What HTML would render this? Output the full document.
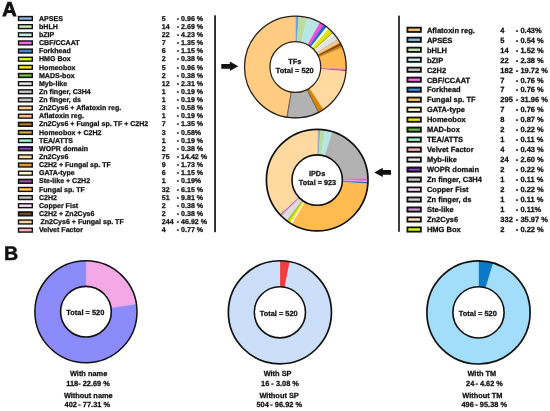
<!DOCTYPE html>
<html><head><meta charset="utf-8"><title>Figure</title>
<style>html,body{margin:0;padding:0;background:#fff}svg{display:block}text{stroke:#111;stroke-width:.26px;text-rendering:geometricPrecision}</style></head>
<body>
<svg width="550" height="411" viewBox="0 0 550 411" font-family="Liberation Sans, sans-serif" font-weight="bold" fill="#111">
<rect width="550" height="411" fill="#fff"/>
<text x="2.2" y="16.1" font-size="20" style="stroke-width:.8px">A</text>
<text x="4.0" y="259.7" font-size="19.6" style="stroke-width:.5px">B</text>
<rect x="18.5" y="16.55" width="13.8" height="3.9" fill="#6FA3DC" stroke="#111" stroke-width="1.4"/><rect x="19.6" y="17.95" width="11.6" height="1.1" fill="#fff" opacity=".3"/>
<text x="39" y="20.70" font-size="7.05">APSES</text>
<text x="161.8" y="20.70" font-size="7.05">5</text>
<text x="176.8" y="20.70" font-size="7.05">- 0.96 %</text>
<rect x="18.5" y="24.69" width="13.8" height="3.9" fill="#BCDCA2" stroke="#111" stroke-width="1.4"/><rect x="19.6" y="26.09" width="11.6" height="1.1" fill="#fff" opacity=".3"/>
<text x="39" y="28.84" font-size="7.05">bHLH</text>
<text x="161.8" y="28.84" font-size="7.05">14</text>
<text x="176.8" y="28.84" font-size="7.05">- 2.69 %</text>
<rect x="18.5" y="32.83" width="13.8" height="3.9" fill="#B8E6E6" stroke="#111" stroke-width="1.4"/><rect x="19.6" y="34.23" width="11.6" height="1.1" fill="#fff" opacity=".3"/>
<text x="39" y="36.97" font-size="7.05">bZIP</text>
<text x="161.8" y="36.97" font-size="7.05">22</text>
<text x="176.8" y="36.97" font-size="7.05">- 4.23 %</text>
<rect x="18.5" y="40.97" width="13.8" height="3.9" fill="#F24CE0" stroke="#111" stroke-width="1.4"/><rect x="19.6" y="42.37" width="11.6" height="1.1" fill="#fff" opacity=".3"/>
<text x="39" y="45.11" font-size="7.05">CBF/CCAAT</text>
<text x="161.8" y="45.11" font-size="7.05">7</text>
<text x="176.8" y="45.11" font-size="7.05">- 1.35 %</text>
<rect x="18.5" y="49.11" width="13.8" height="3.9" fill="#1C6FC4" stroke="#111" stroke-width="1.4"/><rect x="19.6" y="50.51" width="11.6" height="1.1" fill="#fff" opacity=".3"/>
<text x="39" y="53.24" font-size="7.05">Forkhead</text>
<text x="161.8" y="53.24" font-size="7.05">6</text>
<text x="176.8" y="53.24" font-size="7.05">- 1.15 %</text>
<rect x="18.5" y="57.25" width="13.8" height="3.9" fill="#C8F000" stroke="#111" stroke-width="1.4"/><rect x="19.6" y="58.65" width="11.6" height="1.1" fill="#fff" opacity=".3"/>
<text x="39" y="61.38" font-size="7.05">HMG Box</text>
<text x="161.8" y="61.38" font-size="7.05">2</text>
<text x="176.8" y="61.38" font-size="7.05">- 0.38 %</text>
<rect x="18.5" y="65.39" width="13.8" height="3.9" fill="#F2D800" stroke="#111" stroke-width="1.4"/><rect x="19.6" y="66.79" width="11.6" height="1.1" fill="#fff" opacity=".3"/>
<text x="39" y="69.51" font-size="7.05">Homeobox</text>
<text x="161.8" y="69.51" font-size="7.05">5</text>
<text x="176.8" y="69.51" font-size="7.05">- 0.96 %</text>
<rect x="18.5" y="73.53" width="13.8" height="3.9" fill="#4F9A2E" stroke="#111" stroke-width="1.4"/><rect x="19.6" y="74.93" width="11.6" height="1.1" fill="#fff" opacity=".3"/>
<text x="39" y="77.64" font-size="7.05">MADS-box</text>
<text x="161.8" y="77.64" font-size="7.05">2</text>
<text x="176.8" y="77.64" font-size="7.05">- 0.38 %</text>
<rect x="18.5" y="81.67" width="13.8" height="3.9" fill="#E2E2E2" stroke="#111" stroke-width="1.4"/><rect x="19.6" y="83.07" width="11.6" height="1.1" fill="#fff" opacity=".3"/>
<text x="39" y="85.78" font-size="7.05">Myb-like</text>
<text x="161.8" y="85.78" font-size="7.05">12</text>
<text x="176.8" y="85.78" font-size="7.05">- 2.31 %</text>
<rect x="18.5" y="89.81" width="13.8" height="3.9" fill="#B4B4B4" stroke="#111" stroke-width="1.4"/><rect x="19.6" y="91.21" width="11.6" height="1.1" fill="#fff" opacity=".3"/>
<text x="39" y="93.92" font-size="7.05">Zn finger, C3H4</text>
<text x="161.8" y="93.92" font-size="7.05">1</text>
<text x="176.8" y="93.92" font-size="7.05">- 0.19 %</text>
<rect x="18.5" y="97.95" width="13.8" height="3.9" fill="#BDBDBD" stroke="#111" stroke-width="1.4"/><rect x="19.6" y="99.35" width="11.6" height="1.1" fill="#fff" opacity=".3"/>
<text x="39" y="102.05" font-size="7.05">Zn finger, ds</text>
<text x="161.8" y="102.05" font-size="7.05">1</text>
<text x="176.8" y="102.05" font-size="7.05">- 0.19 %</text>
<rect x="18.5" y="106.09" width="13.8" height="3.9" fill="#FFC878" stroke="#111" stroke-width="1.4"/><rect x="19.6" y="107.49" width="11.6" height="1.1" fill="#fff" opacity=".3"/>
<text x="39" y="110.19" font-size="7.05">Zn2Cys6 + Aflatoxin reg.</text>
<text x="161.8" y="110.19" font-size="7.05">3</text>
<text x="176.8" y="110.19" font-size="7.05">- 0.58 %</text>
<rect x="18.5" y="114.23" width="13.8" height="3.9" fill="#FFB454" stroke="#111" stroke-width="1.4"/><rect x="19.6" y="115.63" width="11.6" height="1.1" fill="#fff" opacity=".3"/>
<text x="39" y="118.32" font-size="7.05">Aflatoxin reg.</text>
<text x="161.8" y="118.32" font-size="7.05">1</text>
<text x="176.8" y="118.32" font-size="7.05">- 0.19 %</text>
<rect x="18.5" y="122.37" width="13.8" height="3.9" fill="#8E4A00" stroke="#111" stroke-width="1.4"/><rect x="19.6" y="123.77" width="11.6" height="1.1" fill="#fff" opacity=".3"/>
<text x="39" y="126.45" font-size="7.05">Zn2Cys6 + Fungal sp. TF + C2H2</text>
<text x="161.8" y="126.45" font-size="7.05">7</text>
<text x="176.8" y="126.45" font-size="7.05">- 1.35 %</text>
<rect x="18.5" y="130.51" width="13.8" height="3.9" fill="#A89600" stroke="#111" stroke-width="1.4"/><rect x="19.6" y="131.91" width="11.6" height="1.1" fill="#fff" opacity=".3"/>
<text x="39" y="134.59" font-size="7.05">Homeobox + C2H2</text>
<text x="161.8" y="134.59" font-size="7.05">3</text>
<text x="176.8" y="134.59" font-size="7.05">- 0.58%</text>
<rect x="18.5" y="138.65" width="13.8" height="3.9" fill="#8CF2C4" stroke="#111" stroke-width="1.4"/><rect x="19.6" y="140.05" width="11.6" height="1.1" fill="#fff" opacity=".3"/>
<text x="39" y="142.72" font-size="7.05">TEA/ATTS</text>
<text x="161.8" y="142.72" font-size="7.05">1</text>
<text x="176.8" y="142.72" font-size="7.05">- 0.19 %</text>
<rect x="18.5" y="146.79" width="13.8" height="3.9" fill="#5A1690" stroke="#111" stroke-width="1.4"/><rect x="19.6" y="148.19" width="11.6" height="1.1" fill="#fff" opacity=".3"/>
<text x="39" y="150.86" font-size="7.05">WOPR domain</text>
<text x="161.8" y="150.86" font-size="7.05">2</text>
<text x="176.8" y="150.86" font-size="7.05">- 0.38 %</text>
<rect x="18.5" y="154.93" width="13.8" height="3.9" fill="#FFD9A0" stroke="#111" stroke-width="1.4"/><rect x="19.6" y="156.33" width="11.6" height="1.1" fill="#fff" opacity=".3"/>
<text x="39" y="158.99" font-size="7.05">Zn2Cys6</text>
<text x="161.8" y="158.99" font-size="7.05">75</text>
<text x="176.8" y="158.99" font-size="7.05">- 14.42 %</text>
<rect x="18.5" y="163.07" width="13.8" height="3.9" fill="#D88400" stroke="#111" stroke-width="1.4"/><rect x="19.6" y="164.47" width="11.6" height="1.1" fill="#fff" opacity=".3"/>
<text x="39" y="167.13" font-size="7.05">C2H2 + Fungal sp. TF</text>
<text x="161.8" y="167.13" font-size="7.05">9</text>
<text x="176.8" y="167.13" font-size="7.05">- 1.73 %</text>
<rect x="18.5" y="171.21" width="13.8" height="3.9" fill="#FFF8C0" stroke="#111" stroke-width="1.4"/><rect x="19.6" y="172.61" width="11.6" height="1.1" fill="#fff" opacity=".3"/>
<text x="39" y="175.26" font-size="7.05">GATA-type</text>
<text x="161.8" y="175.26" font-size="7.05">6</text>
<text x="176.8" y="175.26" font-size="7.05">- 1.15 %</text>
<rect x="18.5" y="179.35" width="13.8" height="3.9" fill="#6E2A78" stroke="#111" stroke-width="1.4"/><rect x="19.6" y="180.75" width="11.6" height="1.1" fill="#fff" opacity=".3"/>
<text x="39" y="183.40" font-size="7.05">Ste-like + C2H2</text>
<text x="161.8" y="183.40" font-size="7.05">1</text>
<text x="176.8" y="183.40" font-size="7.05">- 0.19%</text>
<rect x="18.5" y="187.49" width="13.8" height="3.9" fill="#FFBA50" stroke="#111" stroke-width="1.4"/><rect x="19.6" y="188.89" width="11.6" height="1.1" fill="#fff" opacity=".3"/>
<text x="39" y="191.53" font-size="7.05">Fungal sp. TF</text>
<text x="161.8" y="191.53" font-size="7.05">32</text>
<text x="176.8" y="191.53" font-size="7.05">- 6.15 %</text>
<rect x="18.5" y="195.63" width="13.8" height="3.9" fill="#B2B2B2" stroke="#111" stroke-width="1.4"/><rect x="19.6" y="197.03" width="11.6" height="1.1" fill="#fff" opacity=".3"/>
<text x="39" y="199.67" font-size="7.05">C2H2</text>
<text x="161.8" y="199.67" font-size="7.05">51</text>
<text x="176.8" y="199.67" font-size="7.05">- 9.81 %</text>
<rect x="18.5" y="203.77" width="13.8" height="3.9" fill="#F8D0F4" stroke="#111" stroke-width="1.4"/><rect x="19.6" y="205.17" width="11.6" height="1.1" fill="#fff" opacity=".3"/>
<text x="39" y="207.80" font-size="7.05">Copper Fist</text>
<text x="161.8" y="207.80" font-size="7.05">2</text>
<text x="176.8" y="207.80" font-size="7.05">- 0.38 %</text>
<rect x="18.5" y="211.91" width="13.8" height="3.9" fill="#4A2400" stroke="#111" stroke-width="1.4"/><rect x="19.6" y="213.31" width="11.6" height="1.1" fill="#fff" opacity=".3"/>
<text x="39" y="215.94" font-size="7.05">C2H2 + Zn2Cys6</text>
<text x="161.8" y="215.94" font-size="7.05">2</text>
<text x="176.8" y="215.94" font-size="7.05">- 0.38 %</text>
<rect x="18.5" y="220.05" width="13.8" height="3.9" fill="#FFCC82" stroke="#111" stroke-width="1.4"/><rect x="19.6" y="221.45" width="11.6" height="1.1" fill="#fff" opacity=".3"/>
<text x="40.5" y="224.07" font-size="7.05">Zn2Cys6 + Fungal sp. TF</text>
<text x="161.8" y="224.07" font-size="7.05">244</text>
<text x="176.8" y="224.07" font-size="7.05">- 46.92 %</text>
<rect x="18.5" y="228.19" width="13.8" height="3.9" fill="#F8A0A0" stroke="#111" stroke-width="1.4"/><rect x="19.6" y="229.59" width="11.6" height="1.1" fill="#fff" opacity=".3"/>
<text x="39" y="232.21" font-size="7.05">Velvet Factor</text>
<text x="161.8" y="232.21" font-size="7.05">4</text>
<text x="176.8" y="232.21" font-size="7.05">- 0.77 %</text>
<rect x="214.1" y="15.3" width="1.9" height="216.9" fill="#2a2a2a"/>
<rect x="407.4" y="27.65" width="13.5" height="4.3" fill="#FFB454" stroke="#111" stroke-width="1.8"/><rect x="408.8" y="29.25" width="10.7" height="1.1" fill="#fff" opacity=".3"/>
<text x="426.9" y="32.80" font-size="7.5">Aflatoxin reg.</text>
<text x="500.3" y="32.80" font-size="7.5">4</text>
<text x="515.8" y="32.80" font-size="7.5">- 0.43%</text>
<rect x="407.4" y="37.63" width="13.5" height="4.3" fill="#6FA3DC" stroke="#111" stroke-width="1.8"/><rect x="408.8" y="39.23" width="10.7" height="1.1" fill="#fff" opacity=".3"/>
<text x="426.9" y="42.74" font-size="7.5">APSES</text>
<text x="500.3" y="42.74" font-size="7.5">5</text>
<text x="515.8" y="42.74" font-size="7.5">- 0.54 %</text>
<rect x="407.4" y="47.62" width="13.5" height="4.3" fill="#BCDCA2" stroke="#111" stroke-width="1.8"/><rect x="408.8" y="49.22" width="10.7" height="1.1" fill="#fff" opacity=".3"/>
<text x="426.9" y="52.69" font-size="7.5">bHLH</text>
<text x="500.3" y="52.69" font-size="7.5">14</text>
<text x="515.8" y="52.69" font-size="7.5">- 1.52 %</text>
<rect x="407.4" y="57.60" width="13.5" height="4.3" fill="#B8E6E6" stroke="#111" stroke-width="1.8"/><rect x="408.8" y="59.20" width="10.7" height="1.1" fill="#fff" opacity=".3"/>
<text x="426.9" y="62.63" font-size="7.5">bZIP</text>
<text x="500.3" y="62.63" font-size="7.5">22</text>
<text x="515.8" y="62.63" font-size="7.5">- 2.38 %</text>
<rect x="407.4" y="67.59" width="13.5" height="4.3" fill="#B2B2B2" stroke="#111" stroke-width="1.8"/><rect x="408.8" y="69.19" width="10.7" height="1.1" fill="#fff" opacity=".3"/>
<text x="426.9" y="72.58" font-size="7.5">C2H2</text>
<text x="500.3" y="72.58" font-size="7.5">182</text>
<text x="515.8" y="72.58" font-size="7.5">- 19.72 %</text>
<rect x="407.4" y="77.57" width="13.5" height="4.3" fill="#F24CE0" stroke="#111" stroke-width="1.8"/><rect x="408.8" y="79.17" width="10.7" height="1.1" fill="#fff" opacity=".3"/>
<text x="426.9" y="82.53" font-size="7.5">CBF/CCAAT</text>
<text x="500.3" y="82.53" font-size="7.5">7</text>
<text x="515.8" y="82.53" font-size="7.5">- 0.76 %</text>
<rect x="407.4" y="87.56" width="13.5" height="4.3" fill="#1C6FC4" stroke="#111" stroke-width="1.8"/><rect x="408.8" y="89.16" width="10.7" height="1.1" fill="#fff" opacity=".3"/>
<text x="426.9" y="92.47" font-size="7.5">Forkhead</text>
<text x="500.3" y="92.47" font-size="7.5">7</text>
<text x="515.8" y="92.47" font-size="7.5">- 0.76 %</text>
<rect x="407.4" y="97.54" width="13.5" height="4.3" fill="#FFBA50" stroke="#111" stroke-width="1.8"/><rect x="408.8" y="99.14" width="10.7" height="1.1" fill="#fff" opacity=".3"/>
<text x="426.9" y="102.42" font-size="7.5">Fungal sp. TF</text>
<text x="500.3" y="102.42" font-size="7.5">295</text>
<text x="515.8" y="102.42" font-size="7.5">- 31.96 %</text>
<rect x="407.4" y="107.53" width="13.5" height="4.3" fill="#FFF8C0" stroke="#111" stroke-width="1.8"/><rect x="408.8" y="109.13" width="10.7" height="1.1" fill="#fff" opacity=".3"/>
<text x="426.9" y="112.36" font-size="7.5">GATA-type</text>
<text x="500.3" y="112.36" font-size="7.5">7</text>
<text x="515.8" y="112.36" font-size="7.5">- 0.76 %</text>
<rect x="407.4" y="117.51" width="13.5" height="4.3" fill="#F2D800" stroke="#111" stroke-width="1.8"/><rect x="408.8" y="119.11" width="10.7" height="1.1" fill="#fff" opacity=".3"/>
<text x="426.9" y="122.30" font-size="7.5">Homeobox</text>
<text x="500.3" y="122.30" font-size="7.5">8</text>
<text x="515.8" y="122.30" font-size="7.5">- 0.87 %</text>
<rect x="407.4" y="127.50" width="13.5" height="4.3" fill="#4F9A2E" stroke="#111" stroke-width="1.8"/><rect x="408.8" y="129.10" width="10.7" height="1.1" fill="#fff" opacity=".3"/>
<text x="426.9" y="132.25" font-size="7.5">MAD-box</text>
<text x="500.3" y="132.25" font-size="7.5">2</text>
<text x="515.8" y="132.25" font-size="7.5">- 0.22 %</text>
<rect x="407.4" y="137.48" width="13.5" height="4.3" fill="#8CF2C4" stroke="#111" stroke-width="1.8"/><rect x="408.8" y="139.08" width="10.7" height="1.1" fill="#fff" opacity=".3"/>
<text x="426.9" y="142.19" font-size="7.5">TEA/ATTS</text>
<text x="500.3" y="142.19" font-size="7.5">1</text>
<text x="515.8" y="142.19" font-size="7.5">- 0.11 %</text>
<rect x="407.4" y="147.47" width="13.5" height="4.3" fill="#F8A0A0" stroke="#111" stroke-width="1.8"/><rect x="408.8" y="149.07" width="10.7" height="1.1" fill="#fff" opacity=".3"/>
<text x="426.9" y="152.14" font-size="7.5">Velvet Factor</text>
<text x="500.3" y="152.14" font-size="7.5">4</text>
<text x="515.8" y="152.14" font-size="7.5">- 0.43 %</text>
<rect x="407.4" y="157.46" width="13.5" height="4.3" fill="#E2E2E2" stroke="#111" stroke-width="1.8"/><rect x="408.8" y="159.06" width="10.7" height="1.1" fill="#fff" opacity=".3"/>
<text x="426.9" y="162.08" font-size="7.5">Myb-like</text>
<text x="500.3" y="162.08" font-size="7.5">24</text>
<text x="515.8" y="162.08" font-size="7.5">- 2.60 %</text>
<rect x="407.4" y="167.44" width="13.5" height="4.3" fill="#5A1690" stroke="#111" stroke-width="1.8"/><rect x="408.8" y="169.04" width="10.7" height="1.1" fill="#fff" opacity=".3"/>
<text x="426.9" y="172.03" font-size="7.5">WOPR domain</text>
<text x="500.3" y="172.03" font-size="7.5">2</text>
<text x="515.8" y="172.03" font-size="7.5">- 0.22 %</text>
<rect x="407.4" y="177.42" width="13.5" height="4.3" fill="#B4B4B4" stroke="#111" stroke-width="1.8"/><rect x="408.8" y="179.02" width="10.7" height="1.1" fill="#fff" opacity=".3"/>
<text x="426.9" y="181.98" font-size="7.5">Zn finger, C3H4</text>
<text x="500.3" y="181.98" font-size="7.5">1</text>
<text x="515.8" y="181.98" font-size="7.5">- 0.11 %</text>
<rect x="407.4" y="187.41" width="13.5" height="4.3" fill="#F8D0F4" stroke="#111" stroke-width="1.8"/><rect x="408.8" y="189.01" width="10.7" height="1.1" fill="#fff" opacity=".3"/>
<text x="426.9" y="191.92" font-size="7.5">Copper Fist</text>
<text x="500.3" y="191.92" font-size="7.5">2</text>
<text x="515.8" y="191.92" font-size="7.5">- 0.22 %</text>
<rect x="407.4" y="197.40" width="13.5" height="4.3" fill="#BDBDBD" stroke="#111" stroke-width="1.8"/><rect x="408.8" y="199.00" width="10.7" height="1.1" fill="#fff" opacity=".3"/>
<text x="426.9" y="201.87" font-size="7.5">Zn finger, ds</text>
<text x="500.3" y="201.87" font-size="7.5">1</text>
<text x="515.8" y="201.87" font-size="7.5">- 0.11 %</text>
<rect x="407.4" y="207.38" width="13.5" height="4.3" fill="#B878C0" stroke="#111" stroke-width="1.8"/><rect x="408.8" y="208.98" width="10.7" height="1.1" fill="#fff" opacity=".3"/>
<text x="426.9" y="211.81" font-size="7.5">Ste-like</text>
<text x="500.3" y="211.81" font-size="7.5">1</text>
<text x="515.8" y="211.81" font-size="7.5">- 0.11%</text>
<rect x="407.4" y="217.36" width="13.5" height="4.3" fill="#FFD9A0" stroke="#111" stroke-width="1.8"/><rect x="408.8" y="218.96" width="10.7" height="1.1" fill="#fff" opacity=".3"/>
<text x="426.9" y="221.75" font-size="7.5">Zn2Cys6</text>
<text x="500.3" y="221.75" font-size="7.5">332</text>
<text x="515.8" y="221.75" font-size="7.5">- 35.97 %</text>
<rect x="407.4" y="227.35" width="13.5" height="4.3" fill="#C8F000" stroke="#111" stroke-width="1.8"/><rect x="408.8" y="228.95" width="10.7" height="1.1" fill="#fff" opacity=".3"/>
<text x="426.9" y="231.70" font-size="7.5">HMG Box</text>
<text x="500.3" y="231.70" font-size="7.5">2</text>
<text x="515.8" y="231.70" font-size="7.5">- 0.22 %</text>
<rect x="398.1" y="15.6" width="1.8" height="216.2" fill="#2a2a2a"/>
<path d="M221.3 63.9H229.8V61.599999999999994L238.20000000000002 66.3L229.8 71.0V68.7H221.3Z" fill="#111"/>
<path d="M391.0 170.0H382.8V167.8L374.2 172.4L382.8 177.0V174.8H391.0Z" fill="#111"/>
<path d="M295.35 16.15A50.85 50.85 0 0 1 298.73 16.26L297.04 41.66A25.4 25.4 0 0 0 295.35 41.60Z" fill="#6FA3DC" stroke="#6FA3DC" stroke-width="0.3"/>
<path d="M298.73 16.26A50.85 50.85 0 0 1 307.30 17.57L301.32 42.31A25.4 25.4 0 0 0 297.04 41.66Z" fill="#BCDCA2" stroke="#BCDCA2" stroke-width="0.3"/>
<path d="M307.30 17.57A50.85 50.85 0 0 1 319.97 22.51L307.65 44.77A25.4 25.4 0 0 0 301.32 42.31Z" fill="#B8E6E6" stroke="#B8E6E6" stroke-width="0.3"/>
<path d="M319.97 22.51A50.85 50.85 0 0 1 323.68 24.77L309.50 45.91A25.4 25.4 0 0 0 307.65 44.77Z" fill="#F24CE0" stroke="#F24CE0" stroke-width="0.3"/>
<path d="M323.68 24.77A50.85 50.85 0 0 1 326.68 26.95L311.00 46.99A25.4 25.4 0 0 0 309.50 45.91Z" fill="#1C6FC4" stroke="#1C6FC4" stroke-width="0.3"/>
<path d="M326.68 26.95A50.85 50.85 0 0 1 328.91 28.80L312.12 47.92A25.4 25.4 0 0 0 311.00 46.99Z" fill="#FFFBD8" stroke="#FFFBD8" stroke-width="0.3"/>
<path d="M328.91 28.80A50.85 50.85 0 0 1 330.58 30.33L312.95 48.68A25.4 25.4 0 0 0 312.12 47.92Z" fill="#C8F000" stroke="#C8F000" stroke-width="0.3"/>
<path d="M330.58 30.33A50.85 50.85 0 0 1 332.61 32.40L313.96 49.71A25.4 25.4 0 0 0 312.95 48.68Z" fill="#F2D800" stroke="#F2D800" stroke-width="0.3"/>
<path d="M332.61 32.40A50.85 50.85 0 0 1 333.15 32.99L314.23 50.01A25.4 25.4 0 0 0 313.96 49.71Z" fill="#4F9A2E" stroke="#4F9A2E" stroke-width="0.3"/>
<path d="M333.15 32.99A50.85 50.85 0 0 1 334.21 34.21L314.76 50.62A25.4 25.4 0 0 0 314.23 50.01Z" fill="#F4F4F0" stroke="#F4F4F0" stroke-width="0.3"/>
<path d="M334.21 34.21A50.85 50.85 0 0 1 337.87 39.11L316.59 53.07A25.4 25.4 0 0 0 314.76 50.62Z" fill="#E2E2E2" stroke="#E2E2E2" stroke-width="0.3"/>
<path d="M337.87 39.11A50.85 50.85 0 0 1 338.39 39.93L316.85 53.48A25.4 25.4 0 0 0 316.59 53.07Z" fill="#B4B4B4" stroke="#B4B4B4" stroke-width="0.3"/>
<path d="M338.39 39.93A50.85 50.85 0 0 1 340.18 42.99L317.74 55.01A25.4 25.4 0 0 0 316.85 53.48Z" fill="#FFC878" stroke="#FFC878" stroke-width="0.3"/>
<path d="M340.18 42.99A50.85 50.85 0 0 1 341.47 45.59L318.39 56.30A25.4 25.4 0 0 0 317.74 55.01Z" fill="#8E4A00" stroke="#8E4A00" stroke-width="0.3"/>
<path d="M341.47 45.59A50.85 50.85 0 0 1 342.13 47.06L318.72 57.04A25.4 25.4 0 0 0 318.39 56.30Z" fill="#B87818" stroke="#B87818" stroke-width="0.3"/>
<path d="M342.13 47.06A50.85 50.85 0 0 1 342.74 48.55L319.02 57.79A25.4 25.4 0 0 0 318.72 57.04Z" fill="#E0A030" stroke="#E0A030" stroke-width="0.3"/>
<path d="M342.74 48.55A50.85 50.85 0 0 1 346.19 68.11L320.74 67.56A25.4 25.4 0 0 0 319.02 57.79Z" fill="#FFBA50" stroke="#FFBA50" stroke-width="0.3"/>
<path d="M346.19 68.11A50.85 50.85 0 0 1 346.11 70.04L320.70 68.52A25.4 25.4 0 0 0 320.74 67.56Z" fill="#F8A0A0" stroke="#F8A0A0" stroke-width="0.3"/>
<path d="M346.11 70.04A50.85 50.85 0 0 1 346.03 71.17L320.66 69.08A25.4 25.4 0 0 0 320.70 68.52Z" fill="#A03080" stroke="#A03080" stroke-width="0.3"/>
<path d="M346.03 71.17A50.85 50.85 0 0 1 323.30 109.48L309.31 88.22A25.4 25.4 0 0 0 320.66 69.08Z" fill="#FFD9A0" stroke="#FFD9A0" stroke-width="0.3"/>
<path d="M323.30 109.48A50.85 50.85 0 0 1 318.49 112.28L306.91 89.62A25.4 25.4 0 0 0 309.31 88.22Z" fill="#D88400" stroke="#D88400" stroke-width="0.3"/>
<path d="M287.16 117.19A50.85 50.85 0 0 1 286.69 117.11L291.02 92.03A25.4 25.4 0 0 0 291.26 92.07Z" fill="#F8D0F4" stroke="#F8D0F4" stroke-width="0.3"/>
<path d="M286.69 117.11A50.85 50.85 0 0 1 286.21 117.02L290.79 91.99A25.4 25.4 0 0 0 291.02 92.03Z" fill="#4A2400" stroke="#4A2400" stroke-width="0.3"/>
<path d="M286.21 117.02A50.85 50.85 0 0 1 295.35 16.15L295.35 41.60A25.4 25.4 0 0 0 290.79 91.99Z" fill="#FFCC82" stroke="#FFCC82" stroke-width="0.3"/>
<path d="M318.49 112.28A50.85 50.85 0 0 1 287.16 117.19L291.26 92.07A25.4 25.4 0 0 0 306.91 89.62Z" fill="#B2B2B2" stroke="#333" stroke-width="0.6" stroke-linejoin="round"/>
<circle cx="295.35" cy="67.0" r="50.85" fill="none" stroke="#2a2018" stroke-width="1.3"/>
<circle cx="295.35" cy="67.0" r="25.4" fill="#fff" stroke="#2a2018" stroke-width="1.2"/>
<text x="294.9" y="64.2" font-size="7.4" text-anchor="middle">TFs</text>
<text x="294.8" y="72.7" font-size="7.4" text-anchor="middle">Total = 520</text>
<path d="M317.20 129.30A50.8 50.8 0 0 1 318.57 129.32L317.88 154.91A25.2 25.2 0 0 0 317.20 154.90Z" fill="#FFB454" stroke="#FFB454" stroke-width="0.3"/>
<path d="M318.57 129.32A50.8 50.8 0 0 1 320.29 129.39L318.73 154.95A25.2 25.2 0 0 0 317.88 154.91Z" fill="#6FA3DC" stroke="#6FA3DC" stroke-width="0.3"/>
<path d="M320.29 129.39A50.8 50.8 0 0 1 325.11 129.92L321.13 155.21A25.2 25.2 0 0 0 318.73 154.95Z" fill="#BCDCA2" stroke="#BCDCA2" stroke-width="0.3"/>
<path d="M325.11 129.92A50.8 50.8 0 0 1 332.50 131.66L324.79 156.07A25.2 25.2 0 0 0 321.13 155.21Z" fill="#B8E6E6" stroke="#B8E6E6" stroke-width="0.3"/>
<path d="M332.50 131.66A50.8 50.8 0 0 1 367.98 178.77L342.39 179.44A25.2 25.2 0 0 0 324.79 156.07Z" fill="#B2B2B2" stroke="#B2B2B2" stroke-width="0.3"/>
<path d="M367.98 178.77A50.8 50.8 0 0 1 367.99 181.00L342.40 180.55A25.2 25.2 0 0 0 342.39 179.44Z" fill="#F24CE0" stroke="#F24CE0" stroke-width="0.3"/>
<path d="M367.99 181.00A50.8 50.8 0 0 1 367.97 181.96L342.38 181.02A25.2 25.2 0 0 0 342.40 180.55Z" fill="#F8D8F0" stroke="#F8D8F0" stroke-width="0.3"/>
<path d="M367.97 181.96A50.8 50.8 0 0 1 367.87 183.71L342.34 181.89A25.2 25.2 0 0 0 342.38 181.02Z" fill="#1C6FC4" stroke="#1C6FC4" stroke-width="0.3"/>
<path d="M367.87 183.71A50.8 50.8 0 0 1 291.77 224.08L304.59 201.92A25.2 25.2 0 0 0 342.34 181.89Z" fill="#FFBA50" stroke="#FFBA50" stroke-width="0.3"/>
<path d="M291.77 224.08A50.8 50.8 0 0 1 289.87 222.92L303.64 201.34A25.2 25.2 0 0 0 304.59 201.92Z" fill="#FFFBD0" stroke="#FFFBD0" stroke-width="0.3"/>
<path d="M289.87 222.92A50.8 50.8 0 0 1 288.27 221.86L302.85 200.82A25.2 25.2 0 0 0 303.64 201.34Z" fill="#E4DC00" stroke="#E4DC00" stroke-width="0.3"/>
<path d="M288.27 221.86A50.8 50.8 0 0 1 286.98 220.93L302.21 200.35A25.2 25.2 0 0 0 302.85 200.82Z" fill="#B4CC00" stroke="#B4CC00" stroke-width="0.3"/>
<path d="M286.98 220.93A50.8 50.8 0 0 1 286.67 220.70L302.05 200.24A25.2 25.2 0 0 0 302.21 200.35Z" fill="#4F9A2E" stroke="#4F9A2E" stroke-width="0.3"/>
<path d="M286.67 220.70A50.8 50.8 0 0 1 281.25 216.00L299.37 197.91A25.2 25.2 0 0 0 302.05 200.24Z" fill="#DCDCDE" stroke="#DCDCDE" stroke-width="0.3"/>
<path d="M281.25 216.00A50.8 50.8 0 0 1 280.47 215.20L298.98 197.51A25.2 25.2 0 0 0 299.37 197.91Z" fill="#E890B0" stroke="#E890B0" stroke-width="0.3"/>
<path d="M280.47 215.20A50.8 50.8 0 0 1 279.82 214.50L298.66 197.16A25.2 25.2 0 0 0 298.98 197.51Z" fill="#A050A0" stroke="#A050A0" stroke-width="0.3"/>
<path d="M279.82 214.50A50.8 50.8 0 0 1 279.50 214.14L298.50 196.99A25.2 25.2 0 0 0 298.66 197.16Z" fill="#F8D0F4" stroke="#F8D0F4" stroke-width="0.3"/>
<path d="M279.50 214.14A50.8 50.8 0 0 1 317.20 129.30L317.20 154.90A25.2 25.2 0 0 0 298.50 196.99Z" fill="#FFD9A0" stroke="#FFD9A0" stroke-width="0.3"/>
<circle cx="317.2" cy="180.1" r="50.8" fill="none" stroke="#111" stroke-width="1.7"/>
<circle cx="317.2" cy="180.1" r="25.2" fill="#fff" stroke="#111" stroke-width="1.6"/>
<text x="317.1" y="175.9" font-size="7.3" text-anchor="middle">IPDs</text>
<text x="317.5" y="184.6" font-size="7.3" text-anchor="middle">Total = 923</text>
<path d="M85.95 260.65A51.05 51.05 0 0 1 136.46 304.32L111.03 308.03A25.35 25.35 0 0 0 85.95 286.35Z" fill="#F5A8E6" stroke="#F5A8E6" stroke-width="0.3"/>
<path d="M136.46 304.32A51.05 51.05 0 1 1 85.95 260.65L85.95 286.35A25.35 25.35 0 1 0 111.03 308.03Z" fill="#8B8BFC" stroke="#8B8BFC" stroke-width="0.3"/>
<circle cx="85.95" cy="311.7" r="51.05" fill="none" stroke="#111" stroke-width="1.5"/>
<circle cx="85.95" cy="311.7" r="25.35" fill="#fff" stroke="#111" stroke-width="1.6"/>
<text x="85.3" y="315.4" font-size="7.45" text-anchor="middle">Total = 520</text>
<path d="M279.90 260.75A51.55 51.55 0 0 1 289.81 261.71L284.82 287.18A25.6 25.6 0 0 0 279.90 286.70Z" fill="#F03C3C" stroke="#F03C3C" stroke-width="0.3"/>
<path d="M289.81 261.71A51.55 51.55 0 1 1 279.90 260.75L279.90 286.70A25.6 25.6 0 1 0 284.82 287.18Z" fill="#CCDFFA" stroke="#CCDFFA" stroke-width="0.3"/>
<circle cx="279.9" cy="312.3" r="51.55" fill="none" stroke="#111" stroke-width="1.7"/>
<circle cx="279.9" cy="312.3" r="25.6" fill="#fff" stroke="#111" stroke-width="1.6"/>
<text x="278.7" y="315.7" font-size="7.45" text-anchor="middle">Total = 520</text>
<path d="M478.50 260.80A51.6 51.6 0 0 1 493.27 262.96L485.83 287.87A25.6 25.6 0 0 0 478.50 286.80Z" fill="#0A7AC8" stroke="#0A7AC8" stroke-width="0.3"/>
<path d="M493.27 262.96A51.6 51.6 0 1 1 478.50 260.80L478.50 286.80A25.6 25.6 0 1 0 485.83 287.87Z" fill="#A2DEFC" stroke="#A2DEFC" stroke-width="0.3"/>
<circle cx="478.5" cy="312.4" r="51.6" fill="none" stroke="#111" stroke-width="1.7"/>
<circle cx="478.5" cy="312.4" r="25.6" fill="#fff" stroke="#111" stroke-width="1.6"/>
<text x="477.8" y="315.7" font-size="7.45" text-anchor="middle">Total = 520</text>
<text x="88.6" y="376.3" font-size="7.4" text-anchor="middle">With name</text>
<text x="88" y="385.5" font-size="7.4" text-anchor="middle">118- 22.69 %</text>
<text x="88.3" y="397.7" font-size="7.4" text-anchor="middle">Without name</text>
<text x="87.3" y="406.8" font-size="7.4" text-anchor="middle">402<tspan dx="1.4">- 77.31 %</tspan></text>
<text x="277.6" y="376.3" font-size="7.4" text-anchor="middle">With SP</text>
<text x="280" y="385.5" font-size="7.4" text-anchor="middle">16 - 3.08 %</text>
<text x="279.1" y="397.7" font-size="7.4" text-anchor="middle">Without SP</text>
<text x="279.2" y="406.8" font-size="7.4" text-anchor="middle">504<tspan dx="1.6">- 96.92 %</tspan></text>
<text x="481.8" y="376.3" font-size="7.4" text-anchor="middle">With TM</text>
<text x="484.5" y="385.5" font-size="7.4" text-anchor="middle">24<tspan dx="1.1">- 4.62 %</tspan></text>
<text x="482.4" y="397.7" font-size="7.4" text-anchor="middle">Without TM</text>
<text x="484.2" y="406.8" font-size="7.4" text-anchor="middle">496<tspan dx="1.6">- 95.38 %</tspan></text>
</svg>
</body></html>
